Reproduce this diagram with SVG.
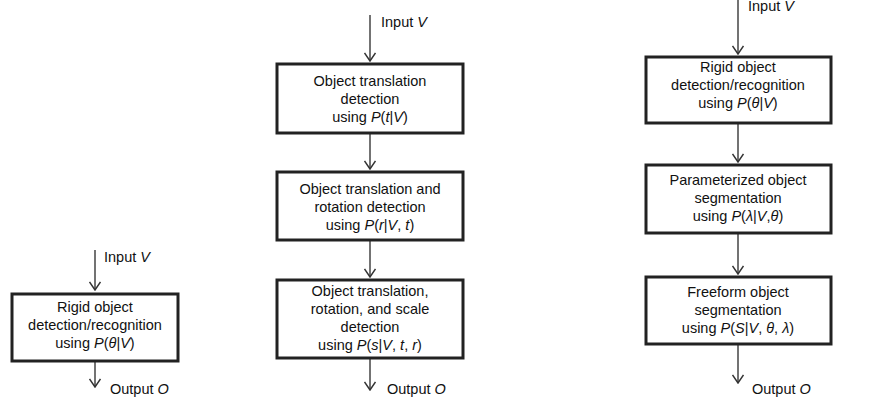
<svg xmlns="http://www.w3.org/2000/svg" width="884" height="400" viewBox="0 0 884 400">
<defs>
<marker id="ah" viewBox="0 0 10 12" refX="9" refY="6" markerWidth="10" markerHeight="12" markerUnits="userSpaceOnUse" orient="auto">
<path d="M1,0.5 L9,6 L1,11.5" fill="none" stroke="#333" stroke-width="1.5"/>
</marker>
<style>
.b{fill:#fff;stroke:#222;stroke-width:3}
.c{stroke:#444;stroke-width:1.5;fill:none}
text{font-family:"Liberation Sans",Arial,sans-serif;font-size:14.5px;fill:#111}
.m{text-anchor:middle}
</style>
</defs>
<rect width="884" height="400" fill="#fff"/>
<g id="connectors">
<line class="c" x1="95" y1="250" x2="95" y2="290" marker-end="url(#ah)"/>
<line class="c" x1="95" y1="362" x2="95" y2="387" marker-end="url(#ah)"/>
<line class="c" x1="370" y1="15" x2="370" y2="61" marker-end="url(#ah)"/>
<line class="c" x1="370" y1="134" x2="370" y2="169" marker-end="url(#ah)"/>
<line class="c" x1="370" y1="241" x2="370" y2="277" marker-end="url(#ah)"/>
<line class="c" x1="370" y1="359" x2="370" y2="390" marker-end="url(#ah)"/>
<line class="c" x1="738" y1="0" x2="738" y2="54" marker-end="url(#ah)"/>
<line class="c" x1="738" y1="124" x2="738" y2="162" marker-end="url(#ah)"/>
<line class="c" x1="738" y1="234" x2="738" y2="274" marker-end="url(#ah)"/>
<line class="c" x1="738" y1="345" x2="738" y2="383" marker-end="url(#ah)"/>
<text x="104" y="262">Input <tspan font-style="italic">V</tspan></text>
<text x="110" y="394">Output <tspan font-style="italic">O</tspan></text>
<text x="381" y="27">Input <tspan font-style="italic">V</tspan></text>
<text x="387" y="394">Output <tspan font-style="italic">O</tspan></text>
<text x="748" y="11">Input <tspan font-style="italic">V</tspan></text>
<text x="752" y="394">Output <tspan font-style="italic">O</tspan></text>
</g>
<g id="left1">
<rect class="b" x="12" y="294" width="166" height="67"/>
<text class="m" x="95" y="312">Rigid object</text>
<text class="m" x="95" y="330">detection/recognition</text>
<text class="m" x="95" y="348">using <tspan font-style="italic">P</tspan>(<tspan font-style="italic">θ</tspan>|<tspan font-style="italic">V</tspan>)</text>
</g>
<g id="mid1">
<rect class="b" x="277" y="64" width="186" height="69"/>
<text class="m" x="370" y="86">Object translation</text>
<text class="m" x="370" y="104">detection</text>
<text class="m" x="370" y="122">using <tspan font-style="italic">P</tspan>(<tspan font-style="italic">t</tspan>|<tspan font-style="italic">V</tspan>)</text>
</g>
<g id="mid2">
<rect class="b" x="277" y="172" width="186" height="68"/>
<text class="m" x="370" y="194">Object translation and</text>
<text class="m" x="370" y="212">rotation detection</text>
<text class="m" x="370" y="230">using <tspan font-style="italic">P</tspan>(<tspan font-style="italic">r</tspan>|<tspan font-style="italic">V</tspan>, <tspan font-style="italic">t</tspan>)</text>
</g>
<g id="mid3">
<rect class="b" x="277" y="280" width="186" height="78"/>
<text class="m" x="370" y="296">Object translation,</text>
<text class="m" x="370" y="314">rotation, and scale</text>
<text class="m" x="370" y="332">detection</text>
<text class="m" x="370" y="350">using <tspan font-style="italic">P</tspan>(<tspan font-style="italic">s</tspan>|<tspan font-style="italic">V</tspan>, <tspan font-style="italic">t</tspan>, <tspan font-style="italic">r</tspan>)</text>
</g>
<g id="right1">
<rect class="b" x="646" y="57" width="185" height="66"/>
<text class="m" x="738" y="72">Rigid object</text>
<text class="m" x="738" y="90">detection/recognition</text>
<text class="m" x="738" y="108">using <tspan font-style="italic">P</tspan>(<tspan font-style="italic">θ</tspan>|<tspan font-style="italic">V</tspan>)</text>
</g>
<g id="right2">
<rect class="b" x="646" y="165" width="185" height="68"/>
<text class="m" x="738" y="185">Parameterized object</text>
<text class="m" x="738" y="203">segmentation</text>
<text class="m" x="738" y="221">using <tspan font-style="italic">P</tspan>(<tspan font-style="italic">λ</tspan>|<tspan font-style="italic">V</tspan>,<tspan font-style="italic">θ</tspan>)</text>
</g>
<g id="right3">
<rect class="b" x="646" y="277" width="185" height="67"/>
<text class="m" x="738" y="297">Freeform object</text>
<text class="m" x="738" y="315">segmentation</text>
<text class="m" x="738" y="333">using <tspan font-style="italic">P</tspan>(<tspan font-style="italic">S</tspan>|<tspan font-style="italic">V</tspan>, <tspan font-style="italic">θ</tspan>, <tspan font-style="italic">λ</tspan>)</text>
</g>
</svg>
